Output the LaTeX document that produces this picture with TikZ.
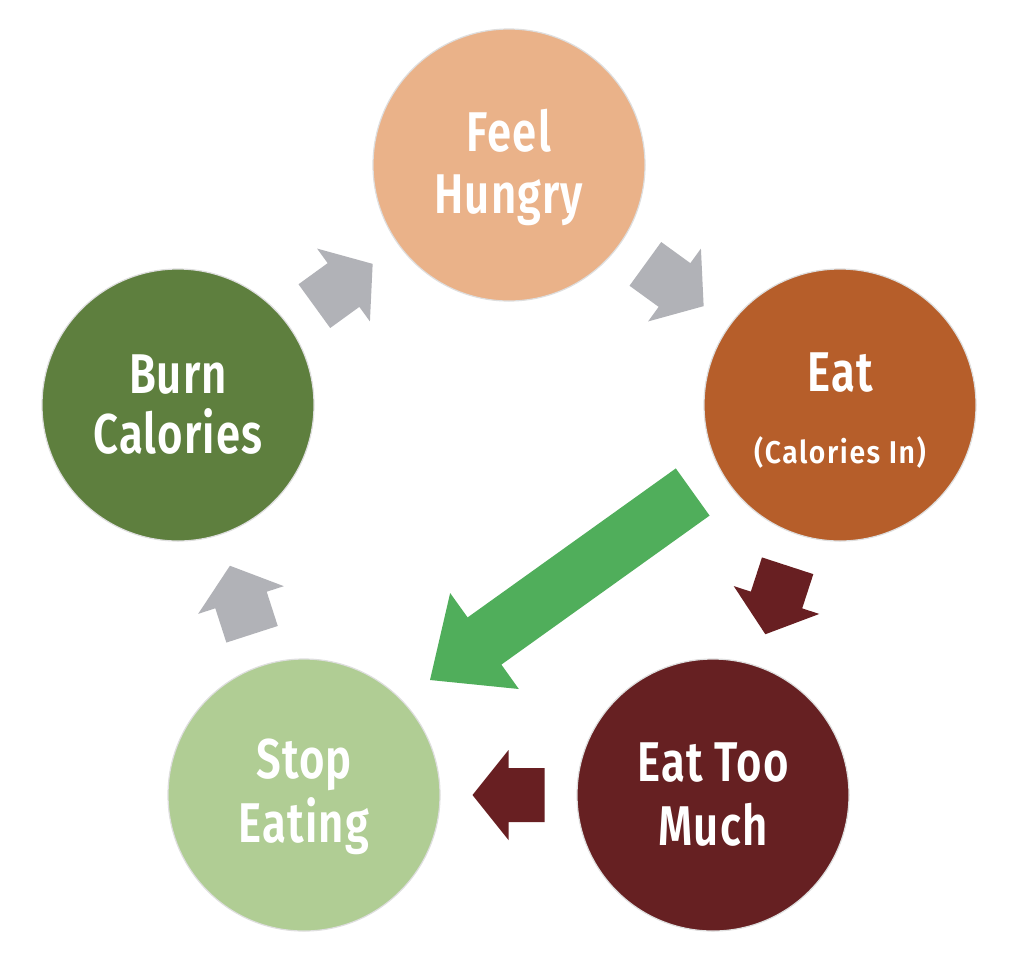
\documentclass[tikz,border=0pt]{standalone}
\usepackage{fontspec}
\newfontfamily\lblfont{Fira Sans}[FakeStretch=0.78, BoldFont={Fira Sans SemiBold}, LetterSpace=2]
\newfontfamily\smlfont{Fira Sans}[FakeStretch=0.9, BoldFont={Fira Sans SemiBold}, LetterSpace=5]
\usetikzlibrary{calc}
\definecolor{cHungry}{RGB}{234,178,137}
\definecolor{cEat}{RGB}{182,94,42}
\definecolor{cMuch}{RGB}{102,32,34}
\definecolor{cStop}{RGB}{176,205,148}
\definecolor{cBurn}{RGB}{94,127,62}
\definecolor{cGrayArr}{RGB}{177,178,183}
\definecolor{cGreenArr}{RGB}{80,174,91}
\definecolor{cRedArr}{RGB}{104,31,34}
\definecolor{cEdge}{RGB}{222,222,222}
% block arrow: tail centre, tip, style, shaft half-width, head half-width, head length
\newcommand\myblockarrow[6]{%
  \fill[#3] ($(#1)!#4!90:(#2)$) -- ($(#2)!#6!(#1)!#4!-90:(#1)$)
    -- ($(#2)!#6!(#1)!#5!-90:(#1)$) -- (#2)
    -- ($(#2)!#6!(#1)!#5!90:(#1)$) -- ($(#2)!#6!(#1)!#4!90:(#1)$)
    -- ($(#1)!#4!-90:(#2)$) -- cycle;}
% short arrow centred between two circles
\newcommand\mysmallarrow[4]{%
  \path ($(#1.center)!0.5!(#2.center)!-36pt!(#2.center)$) coordinate (#3t)
        ($(#1.center)!0.5!(#2.center)!36pt!(#2.center)$) coordinate (#3h);
  \myblockarrow{#3t}{#3h}{#4}{27pt}{45pt}{36pt}}
\begin{document}
\begin{tikzpicture}[x=1pt,y=-1pt,
  circ/.style={circle,minimum size=272pt,inner sep=0pt,draw=cEdge,line width=1.2pt},
  bigtxt/.style={text=white,font=\lblfont\bfseries\fontsize{56}{60}\selectfont,anchor=base,inner sep=0pt},
  smalltxt/.style={text=white,font=\smlfont\bfseries\fontsize{31.5}{34}\selectfont,anchor=base,inner sep=0pt},
  grayarr/.style={fill=cGrayArr},
  redarr/.style={fill=cRedArr},
  greenarr/.style={fill=cGreenArr}]
\useasboundingbox[fill=white] (0,0) rectangle (1024,978);

\node[circ,fill=cHungry] (hungry) at (509,165) {};
\node[circ,fill=cEat]    (eat)    at (840,405) {};
\node[circ,fill=cMuch]   (much)   at (713,795) {};
\node[circ,fill=cStop]   (stop)   at (304,795) {};
\node[circ,fill=cBurn]   (burn)   at (178,405) {};

\node[bigtxt] (hungryA) at ([yshift=13.3pt]hungry.center) {Feel};
\node[bigtxt] (hungryB) at ([yshift=-48pt]hungry.center) {Hungry};
\node[bigtxt] (eatA) at ([yshift=13.3pt]eat.center) {Eat};
\node[smalltxt] (eatB) at ([yshift=-58pt]eat.center) {(Calories In)};
\node[bigtxt] (muchA) at ([yshift=13.3pt]much.center) {Eat Too};
\node[bigtxt] (muchB) at ([yshift=-50pt]much.center) {Much};
\node[bigtxt] (stopA) at ([yshift=17pt]stop.center) {Stop};
\node[bigtxt] (stopB) at ([yshift=-47pt]stop.center) {Eating};
\node[bigtxt] (burnA) at ([yshift=12pt]burn.center) {Burn};
\node[bigtxt] (burnB) at ([yshift=-48pt]burn.center) {Calories};

\mysmallarrow{burn}{hungry}{aone}{grayarr}
\mysmallarrow{hungry}{eat}{atwo}{grayarr}
\mysmallarrow{eat}{much}{athree}{redarr}
\mysmallarrow{much}{stop}{afour}{redarr}
\mysmallarrow{stop}{burn}{afive}{grayarr}

\coordinate (gtail) at (692.7,492);
\coordinate (gtip) at (430,680);
\myblockarrow{gtail}{gtip}{greenarr}{29pt}{59pt}{67pt}
\end{tikzpicture}
\end{document}
